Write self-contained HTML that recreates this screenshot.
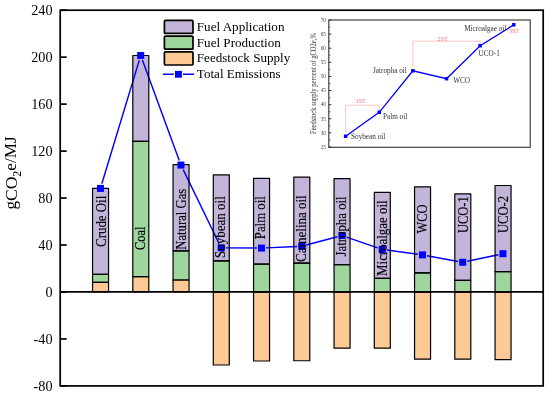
<!DOCTYPE html>
<html><head><meta charset="utf-8"><style>
html,body{margin:0;padding:0;background:#fff;}
svg{display:block;}
text{font-family:"Liberation Serif","Times New Roman",serif;}
.b{}
.lb{stroke:#000;stroke-width:0.15px;}
</style></head><body>
<svg width="550" height="396" viewBox="0 0 550 396">
<rect width="550" height="396" fill="#fff"/>
<rect x="92.55" y="282.47" width="16.00" height="9.51" fill="#FDC995"/>
<rect x="92.55" y="274.25" width="16.00" height="8.22" fill="#9ED69D"/>
<rect x="92.55" y="188.31" width="16.00" height="85.94" fill="#C3B5D9"/>
<rect x="132.80" y="276.71" width="16.00" height="15.26" fill="#FDC995"/>
<rect x="132.80" y="141.34" width="16.00" height="135.37" fill="#9ED69D"/>
<rect x="132.80" y="55.52" width="16.00" height="85.82" fill="#C3B5D9"/>
<rect x="173.05" y="280.00" width="16.00" height="11.98" fill="#FDC995"/>
<rect x="173.05" y="250.88" width="16.00" height="29.12" fill="#9ED69D"/>
<rect x="173.05" y="164.71" width="16.00" height="86.18" fill="#C3B5D9"/>
<rect x="213.30" y="291.97" width="16.00" height="73.03" fill="#FDC995"/>
<rect x="213.30" y="260.86" width="16.00" height="31.11" fill="#9ED69D"/>
<rect x="213.30" y="174.80" width="16.00" height="86.06" fill="#C3B5D9"/>
<rect x="253.55" y="291.97" width="16.00" height="69.03" fill="#FDC995"/>
<rect x="253.55" y="264.15" width="16.00" height="27.83" fill="#9ED69D"/>
<rect x="253.55" y="178.44" width="16.00" height="85.71" fill="#C3B5D9"/>
<rect x="293.80" y="291.97" width="16.00" height="68.80" fill="#FDC995"/>
<rect x="293.80" y="263.09" width="16.00" height="28.88" fill="#9ED69D"/>
<rect x="293.80" y="177.15" width="16.00" height="85.94" fill="#C3B5D9"/>
<rect x="334.05" y="291.97" width="16.00" height="56.24" fill="#FDC995"/>
<rect x="334.05" y="264.74" width="16.00" height="27.24" fill="#9ED69D"/>
<rect x="334.05" y="178.68" width="16.00" height="86.06" fill="#C3B5D9"/>
<rect x="374.30" y="291.97" width="16.00" height="56.24" fill="#FDC995"/>
<rect x="374.30" y="278.36" width="16.00" height="13.62" fill="#9ED69D"/>
<rect x="374.30" y="192.30" width="16.00" height="86.06" fill="#C3B5D9"/>
<rect x="414.55" y="291.97" width="16.00" height="67.16" fill="#FDC995"/>
<rect x="414.55" y="272.84" width="16.00" height="19.14" fill="#9ED69D"/>
<rect x="414.55" y="186.78" width="16.00" height="86.06" fill="#C3B5D9"/>
<rect x="454.80" y="291.97" width="16.00" height="67.16" fill="#FDC995"/>
<rect x="454.80" y="280.35" width="16.00" height="11.62" fill="#9ED69D"/>
<rect x="454.80" y="193.82" width="16.00" height="86.53" fill="#C3B5D9"/>
<rect x="495.05" y="291.97" width="16.00" height="67.74" fill="#FDC995"/>
<rect x="495.05" y="271.55" width="16.00" height="20.43" fill="#9ED69D"/>
<rect x="495.05" y="185.49" width="16.00" height="86.06" fill="#C3B5D9"/>
<path d="M101.84,183.82L139.31,60.12M142.39,60.12L179.26,160.46M183.19,169.66L218.96,243.23M225.80,247.86L256.85,248.04M266.05,247.86L297.10,246.51M306.30,245.07L337.35,236.74M346.55,237.10L377.60,247.88M386.80,250.09L417.85,254.26M427.05,255.72L458.10,261.43M467.30,261.29L498.35,254.68" fill="none" stroke="#0000FF" stroke-width="1.45"/>
<rect x="92.55" y="282.47" width="16.00" height="9.51" fill="none" stroke="#000" stroke-width="1.2" stroke-linejoin="round"/>
<rect x="92.55" y="274.25" width="16.00" height="8.22" fill="none" stroke="#000" stroke-width="1.2" stroke-linejoin="round"/>
<rect x="92.55" y="188.31" width="16.00" height="85.94" fill="none" stroke="#000" stroke-width="1.2" stroke-linejoin="round"/>
<rect x="132.80" y="276.71" width="16.00" height="15.26" fill="none" stroke="#000" stroke-width="1.2" stroke-linejoin="round"/>
<rect x="132.80" y="141.34" width="16.00" height="135.37" fill="none" stroke="#000" stroke-width="1.2" stroke-linejoin="round"/>
<rect x="132.80" y="55.52" width="16.00" height="85.82" fill="none" stroke="#000" stroke-width="1.2" stroke-linejoin="round"/>
<rect x="173.05" y="280.00" width="16.00" height="11.98" fill="none" stroke="#000" stroke-width="1.2" stroke-linejoin="round"/>
<rect x="173.05" y="250.88" width="16.00" height="29.12" fill="none" stroke="#000" stroke-width="1.2" stroke-linejoin="round"/>
<rect x="173.05" y="164.71" width="16.00" height="86.18" fill="none" stroke="#000" stroke-width="1.2" stroke-linejoin="round"/>
<rect x="213.30" y="291.97" width="16.00" height="73.03" fill="none" stroke="#000" stroke-width="1.2" stroke-linejoin="round"/>
<rect x="213.30" y="260.86" width="16.00" height="31.11" fill="none" stroke="#000" stroke-width="1.2" stroke-linejoin="round"/>
<rect x="213.30" y="174.80" width="16.00" height="86.06" fill="none" stroke="#000" stroke-width="1.2" stroke-linejoin="round"/>
<rect x="253.55" y="291.97" width="16.00" height="69.03" fill="none" stroke="#000" stroke-width="1.2" stroke-linejoin="round"/>
<rect x="253.55" y="264.15" width="16.00" height="27.83" fill="none" stroke="#000" stroke-width="1.2" stroke-linejoin="round"/>
<rect x="253.55" y="178.44" width="16.00" height="85.71" fill="none" stroke="#000" stroke-width="1.2" stroke-linejoin="round"/>
<rect x="293.80" y="291.97" width="16.00" height="68.80" fill="none" stroke="#000" stroke-width="1.2" stroke-linejoin="round"/>
<rect x="293.80" y="263.09" width="16.00" height="28.88" fill="none" stroke="#000" stroke-width="1.2" stroke-linejoin="round"/>
<rect x="293.80" y="177.15" width="16.00" height="85.94" fill="none" stroke="#000" stroke-width="1.2" stroke-linejoin="round"/>
<rect x="334.05" y="291.97" width="16.00" height="56.24" fill="none" stroke="#000" stroke-width="1.2" stroke-linejoin="round"/>
<rect x="334.05" y="264.74" width="16.00" height="27.24" fill="none" stroke="#000" stroke-width="1.2" stroke-linejoin="round"/>
<rect x="334.05" y="178.68" width="16.00" height="86.06" fill="none" stroke="#000" stroke-width="1.2" stroke-linejoin="round"/>
<rect x="374.30" y="291.97" width="16.00" height="56.24" fill="none" stroke="#000" stroke-width="1.2" stroke-linejoin="round"/>
<rect x="374.30" y="278.36" width="16.00" height="13.62" fill="none" stroke="#000" stroke-width="1.2" stroke-linejoin="round"/>
<rect x="374.30" y="192.30" width="16.00" height="86.06" fill="none" stroke="#000" stroke-width="1.2" stroke-linejoin="round"/>
<rect x="414.55" y="291.97" width="16.00" height="67.16" fill="none" stroke="#000" stroke-width="1.2" stroke-linejoin="round"/>
<rect x="414.55" y="272.84" width="16.00" height="19.14" fill="none" stroke="#000" stroke-width="1.2" stroke-linejoin="round"/>
<rect x="414.55" y="186.78" width="16.00" height="86.06" fill="none" stroke="#000" stroke-width="1.2" stroke-linejoin="round"/>
<rect x="454.80" y="291.97" width="16.00" height="67.16" fill="none" stroke="#000" stroke-width="1.2" stroke-linejoin="round"/>
<rect x="454.80" y="280.35" width="16.00" height="11.62" fill="none" stroke="#000" stroke-width="1.2" stroke-linejoin="round"/>
<rect x="454.80" y="193.82" width="16.00" height="86.53" fill="none" stroke="#000" stroke-width="1.2" stroke-linejoin="round"/>
<rect x="495.05" y="291.97" width="16.00" height="67.74" fill="none" stroke="#000" stroke-width="1.2" stroke-linejoin="round"/>
<rect x="495.05" y="271.55" width="16.00" height="20.43" fill="none" stroke="#000" stroke-width="1.2" stroke-linejoin="round"/>
<rect x="495.05" y="185.49" width="16.00" height="86.06" fill="none" stroke="#000" stroke-width="1.2" stroke-linejoin="round"/>
<line x1="60.20" y1="291.97" x2="543.20" y2="291.97" stroke="#000" stroke-width="1.8"/>
<rect x="96.95" y="184.92" width="7.0" height="7.0" fill="#0000FF"/>
<rect x="137.20" y="52.02" width="7.0" height="7.0" fill="#0000FF"/>
<rect x="177.45" y="161.56" width="7.0" height="7.0" fill="#0000FF"/>
<rect x="217.70" y="244.33" width="7.0" height="7.0" fill="#0000FF"/>
<rect x="257.95" y="244.57" width="7.0" height="7.0" fill="#0000FF"/>
<rect x="298.20" y="242.80" width="7.0" height="7.0" fill="#0000FF"/>
<rect x="338.45" y="232.00" width="7.0" height="7.0" fill="#0000FF"/>
<rect x="378.70" y="245.97" width="7.0" height="7.0" fill="#0000FF"/>
<rect x="418.95" y="251.37" width="7.0" height="7.0" fill="#0000FF"/>
<rect x="459.20" y="258.77" width="7.0" height="7.0" fill="#0000FF"/>
<rect x="499.45" y="250.20" width="7.0" height="7.0" fill="#0000FF"/>
<text transform="translate(105.60,246.90) rotate(-90) scale(1,1.17)" font-size="12.9" class="lb">Crude Oil</text>
<text transform="translate(144.55,250.00) rotate(-90) scale(1,1.17)" font-size="12.4" class="lb">Coal</text>
<text transform="translate(185.80,249.70) rotate(-90) scale(1,1.17)" font-size="12.7" class="lb">Natural Gas</text>
<text transform="translate(224.80,257.90) rotate(-90) scale(1,1.17)" font-size="13.0" class="lb">Soybean oil</text>
<text transform="translate(265.25,239.20) rotate(-90) scale(1,1.17)" font-size="12.8" class="lb">Palm oil</text>
<text transform="translate(305.70,262.00) rotate(-90) scale(1,1.17)" font-size="13.0" class="lb">Camelina oil</text>
<text transform="translate(345.55,256.40) rotate(-90) scale(1,1.17)" font-size="12.8" class="lb">Jatropha oil</text>
<text transform="translate(386.90,275.90) rotate(-90) scale(1,1.17)" font-size="12.9" class="lb">Microalgae oil</text>
<text transform="translate(426.70,233.60) rotate(-90) scale(1,1.17)" font-size="12.5" class="lb">WCO</text>
<text transform="translate(467.90,233.10) rotate(-90) scale(1,1.17)" font-size="12.5" class="lb">UCO-1</text>
<text transform="translate(507.50,233.10) rotate(-90) scale(1,1.17)" font-size="12.6" class="lb">UCO-2</text>
<rect x="60.20" y="10.20" width="483.00" height="375.70" fill="none" stroke="#000" stroke-width="1.7"/>
<line x1="60.20" y1="385.90" x2="66.70" y2="385.90" stroke="#000" stroke-width="1.7"/>
<text x="52.5" y="390.75" font-size="14.2" text-anchor="end" class="b">-80</text>
<line x1="60.20" y1="338.94" x2="66.70" y2="338.94" stroke="#000" stroke-width="1.7"/>
<text x="52.5" y="343.79" font-size="14.2" text-anchor="end" class="b">-40</text>
<line x1="60.20" y1="291.97" x2="66.70" y2="291.97" stroke="#000" stroke-width="1.7"/>
<text x="52.5" y="296.82" font-size="14.2" text-anchor="end" class="b">0</text>
<line x1="60.20" y1="245.01" x2="66.70" y2="245.01" stroke="#000" stroke-width="1.7"/>
<text x="52.5" y="249.86" font-size="14.2" text-anchor="end" class="b">40</text>
<line x1="60.20" y1="198.05" x2="66.70" y2="198.05" stroke="#000" stroke-width="1.7"/>
<text x="52.5" y="202.90" font-size="14.2" text-anchor="end" class="b">80</text>
<line x1="60.20" y1="151.09" x2="66.70" y2="151.09" stroke="#000" stroke-width="1.7"/>
<text x="52.5" y="155.94" font-size="14.2" text-anchor="end" class="b">120</text>
<line x1="60.20" y1="104.12" x2="66.70" y2="104.12" stroke="#000" stroke-width="1.7"/>
<text x="52.5" y="108.97" font-size="14.2" text-anchor="end" class="b">160</text>
<line x1="60.20" y1="57.16" x2="66.70" y2="57.16" stroke="#000" stroke-width="1.7"/>
<text x="52.5" y="62.01" font-size="14.2" text-anchor="end" class="b">200</text>
<line x1="60.20" y1="10.20" x2="66.70" y2="10.20" stroke="#000" stroke-width="1.7"/>
<text x="52.5" y="15.05" font-size="14.2" text-anchor="end" class="b">240</text>
<text transform="translate(15.8,209.6) rotate(-90)" font-size="17" class="b">g<tspan font-size="17.6" dy="0.9">CO</tspan><tspan font-size="12" dy="4.1">2</tspan><tspan dy="-5" font-size="17.2">e/MJ</tspan></text>
<rect x="164.4" y="20.30" width="28.6" height="13.1" rx="1" fill="#C3B5D9" stroke="#000" stroke-width="1.7"/>
<text x="196.8" y="30.70" font-size="13.1" class="b">Fuel Application</text>
<rect x="164.4" y="36.10" width="28.6" height="13.1" rx="1" fill="#9ED69D" stroke="#000" stroke-width="1.7"/>
<text x="196.8" y="46.50" font-size="13.1" class="b">Fuel Production</text>
<rect x="164.4" y="51.90" width="28.6" height="13.1" rx="1" fill="#FDC995" stroke="#000" stroke-width="1.7"/>
<text x="196.8" y="62.30" font-size="13.1" class="b">Feedstock Supply</text>
<path d="M162.9,74.3H173.8M183,74.3H194" stroke="#0000FF" stroke-width="1.6"/>
<rect x="175.0" y="70.9" width="6.9" height="6.8" fill="#0000FF"/>
<text x="196.8" y="77.9" font-size="13.1" class="b">Total Emissions</text>
<polyline points="345.62,132.28 345.62,105.20 379.25,105.20 379.25,110.29" fill="none" stroke="#FFB3B3" stroke-width="0.8"/>
<text x="360.80" y="103.20" font-size="6" fill="#FF6A6A" text-anchor="middle">1ST</text>
<polyline points="412.88,66.80 412.88,41.20 480.15,41.20 480.15,43.68" fill="none" stroke="#FFB3B3" stroke-width="0.8"/>
<text x="442.60" y="40.60" font-size="6" fill="#FF6A6A" text-anchor="middle">2ST</text>
<text x="514" y="33.3" font-size="6" fill="#FF6A6A" text-anchor="middle">3ST</text>
<polyline points="345.62,136.28 379.25,112.29 412.88,70.80 446.52,78.70 480.15,45.68 513.78,24.80" fill="none" stroke="#0000FF" stroke-width="1.3"/>
<rect x="343.87" y="134.53" width="3.5" height="3.5" fill="#0000FF"/>
<rect x="377.50" y="110.54" width="3.5" height="3.5" fill="#0000FF"/>
<rect x="411.13" y="69.05" width="3.5" height="3.5" fill="#0000FF"/>
<rect x="444.77" y="76.95" width="3.5" height="3.5" fill="#0000FF"/>
<rect x="478.40" y="43.93" width="3.5" height="3.5" fill="#0000FF"/>
<rect x="512.03" y="23.05" width="3.5" height="3.5" fill="#0000FF"/>
<text x="351.1" y="138.8" font-size="7.2" fill="#333" text-anchor="start">Soybean oil</text>
<text x="383" y="119.0" font-size="7.2" fill="#333" text-anchor="start">Palm oil</text>
<text x="406.8" y="72.5" font-size="7.2" fill="#333" text-anchor="end">Jatropha oil</text>
<text x="453.3" y="83.4" font-size="7.2" fill="#333" text-anchor="start">WCO</text>
<text x="478.6" y="55.5" font-size="7.2" fill="#333" text-anchor="start">UCO-1</text>
<text x="506.3" y="30.8" font-size="7.2" fill="#333" text-anchor="end">Microalgae oil</text>
<rect x="328.8" y="20.0" width="201.40" height="127.30" fill="none" stroke="#3a3a3a" stroke-width="1.15"/>
<line x1="328.8" y1="147.00" x2="331.3" y2="147.00" stroke="#333" stroke-width="1"/>
<text x="326" y="148.80" font-size="5.3" fill="#444" text-anchor="end">25</text>
<line x1="328.8" y1="132.89" x2="331.3" y2="132.89" stroke="#333" stroke-width="1"/>
<text x="326" y="134.69" font-size="5.3" fill="#444" text-anchor="end">30</text>
<line x1="328.8" y1="118.78" x2="331.3" y2="118.78" stroke="#333" stroke-width="1"/>
<text x="326" y="120.58" font-size="5.3" fill="#444" text-anchor="end">35</text>
<line x1="328.8" y1="104.67" x2="331.3" y2="104.67" stroke="#333" stroke-width="1"/>
<text x="326" y="106.47" font-size="5.3" fill="#444" text-anchor="end">40</text>
<line x1="328.8" y1="90.56" x2="331.3" y2="90.56" stroke="#333" stroke-width="1"/>
<text x="326" y="92.36" font-size="5.3" fill="#444" text-anchor="end">45</text>
<line x1="328.8" y1="76.44" x2="331.3" y2="76.44" stroke="#333" stroke-width="1"/>
<text x="326" y="78.24" font-size="5.3" fill="#444" text-anchor="end">50</text>
<line x1="328.8" y1="62.33" x2="331.3" y2="62.33" stroke="#333" stroke-width="1"/>
<text x="326" y="64.13" font-size="5.3" fill="#444" text-anchor="end">55</text>
<line x1="328.8" y1="48.22" x2="331.3" y2="48.22" stroke="#333" stroke-width="1"/>
<text x="326" y="50.02" font-size="5.3" fill="#444" text-anchor="end">60</text>
<line x1="328.8" y1="34.11" x2="331.3" y2="34.11" stroke="#333" stroke-width="1"/>
<text x="326" y="35.91" font-size="5.3" fill="#444" text-anchor="end">65</text>
<line x1="328.8" y1="20.00" x2="331.3" y2="20.00" stroke="#333" stroke-width="1"/>
<text x="326" y="21.80" font-size="5.3" fill="#444" text-anchor="end">70</text>
<line x1="328.8" y1="139.94" x2="330.3" y2="139.94" stroke="#333" stroke-width="0.8"/>
<line x1="328.8" y1="125.83" x2="330.3" y2="125.83" stroke="#333" stroke-width="0.8"/>
<line x1="328.8" y1="111.72" x2="330.3" y2="111.72" stroke="#333" stroke-width="0.8"/>
<line x1="328.8" y1="97.61" x2="330.3" y2="97.61" stroke="#333" stroke-width="0.8"/>
<line x1="328.8" y1="83.50" x2="330.3" y2="83.50" stroke="#333" stroke-width="0.8"/>
<line x1="328.8" y1="69.39" x2="330.3" y2="69.39" stroke="#333" stroke-width="0.8"/>
<line x1="328.8" y1="55.28" x2="330.3" y2="55.28" stroke="#333" stroke-width="0.8"/>
<line x1="328.8" y1="41.17" x2="330.3" y2="41.17" stroke="#333" stroke-width="0.8"/>
<line x1="328.8" y1="27.06" x2="330.3" y2="27.06" stroke="#333" stroke-width="0.8"/>
<text transform="translate(315.6,134) rotate(-90) scale(1,1.18)" font-size="6.55" fill="#333">Feedstock supply percent of gCO2e,%</text>
</svg>
</body></html>
